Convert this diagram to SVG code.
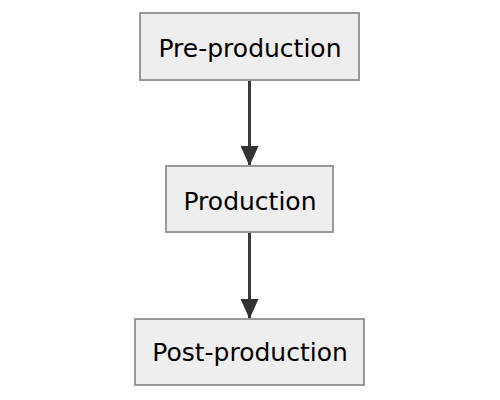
<svg xmlns="http://www.w3.org/2000/svg" width="500" height="400" viewBox="0 0 500 400">
<style>
.node rect{fill:#eeeeee;stroke:#999999;stroke-width:2}
.node text{font-family:"DejaVu Sans",sans-serif;font-size:25px;fill:#000;text-anchor:middle}
.edge{stroke:#3a3a3a;stroke-width:3;fill:none}
</style>
<defs>
<marker id="arrow" viewBox="0 0 20 18" refX="20" refY="9" markerWidth="20" markerHeight="18" markerUnits="userSpaceOnUse" orient="auto">
<path d="M0,0 L20,9 L0,18 Z" fill="#333"/>
</marker>
</defs>
<rect width="500" height="400" fill="#fff"/>
<g id="connectors">
<line class="edge" x1="249.5" y1="81" x2="249.5" y2="166" marker-end="url(#arrow)"/>
<line class="edge" x1="249.5" y1="233" x2="249.5" y2="319" marker-end="url(#arrow)"/>
</g>
<g id="pre" class="node">
<rect x="140" y="13" width="219" height="67"/>
<text x="250" y="57">Pre-production</text>
</g>
<g id="prod" class="node">
<rect x="166" y="166" width="167" height="66"/>
<text x="250" y="210">Production</text>
</g>
<g id="post" class="node">
<rect x="135" y="319" width="229" height="66"/>
<text x="250" y="361">Post-production</text>
</g>
</svg>
